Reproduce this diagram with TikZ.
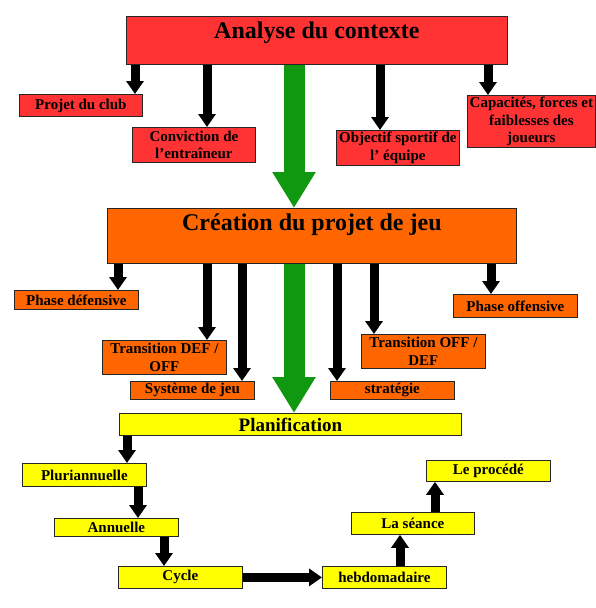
\documentclass[tikz,border=0pt]{standalone}
\usepackage{fontspec}
\setmainfont{Liberation Serif}
\usepackage{tikz}
\usetikzlibrary{arrows.meta}

\definecolor{rouge}{RGB}{255,51,51}
\definecolor{orangefonce}{RGB}{255,102,0}
\definecolor{jaune}{RGB}{255,255,0}
\definecolor{vert}{RGB}{16,152,16}

\tikzset{
  box/.style={draw=black!85, line width=0.8pt, anchor=north west, inner sep=1pt,
    align=center, font=\bfseries\fontsize{15}{17.5}\selectfont},
  rbox/.style={box, fill=rouge},
  obox/.style={box, fill=orangefonce},
  ybox/.style={box, fill=jaune},
  titre/.style={inner ysep=0pt, font=\bfseries\fontsize{24}{29}\selectfont},
  blk/.style={line width=9pt, -{Triangle[width=17pt,length=13pt]}},
  grn/.style={vert, line width=21pt, -{Triangle[width=41pt,length=36pt]}}
}

\begin{document}
\begin{tikzpicture}[x=1pt,y=-1pt]
\useasboundingbox (0,0) rectangle (596,608);

% contexte
\node[rbox, titre, minimum width=381pt, text height=22pt, text depth=26pt] (A) at (126,16) {Analyse du contexte};
\node[rbox, minimum width=123pt, minimum height=22pt] (PC) at (19,94) {Projet du club};
\node[rbox, minimum width=123pt, minimum height=35pt] (CE) at (132,127) {Conviction de\\l’entraîneur};
\node[rbox, minimum width=123pt, minimum height=35pt] (OS) at (336,130) {Objectif sportif de\\l' équipe};
\node[rbox, minimum width=128pt, minimum height=52pt] (CF) at (467,95) {Capacités, forces et\\faiblesses des\\joueurs};

% projet de jeu
\node[obox, titre, minimum width=409pt, text height=22pt, text depth=33pt] (C) at (107,208) {Création du projet de jeu};
\node[obox, minimum width=124pt, minimum height=19pt] (PD) at (14,290) {Phase défensive};
\node[obox, minimum width=124pt, minimum height=34pt] (TD) at (102,340) {Transition DEF /\\OFF};
\node[obox, minimum width=124pt, minimum height=18pt] (SJ) at (130,381) {Système de jeu};
\node[obox, minimum width=124pt, minimum height=18pt] (ST) at (330,381) {stratégie};
\node[obox, minimum width=124pt, minimum height=34pt] (TO) at (361,334) {Transition OFF /\\DEF};
\node[obox, minimum width=124pt, minimum height=23pt] (PO) at (453,294) {Phase offensive};

% planification
\node[ybox, minimum width=342pt, minimum height=22pt, font=\bfseries\fontsize{19}{22}\selectfont] (P) at (119,413) {Planification};
\node[ybox, minimum width=124pt, minimum height=23pt] (PL) at (22,463) {Pluriannuelle};
\node[ybox, minimum width=124pt, minimum height=18pt] (AN) at (54,518) {Annuelle};
\node[ybox, minimum width=124pt, minimum height=22pt] (CY) at (118,566) {Cycle};
\node[ybox, minimum width=124pt, minimum height=22pt] (HB) at (322,566) {hebdomadaire};
\node[ybox, minimum width=123pt, minimum height=22pt] (LS) at (351,512) {La séance};
\node[ybox, minimum width=124pt, minimum height=21pt] (LP) at (426,460) {Le procédé};

\path[blk] (A.south -| 135,0) edge (PC.north -| 135,0);
\path[blk] (A.south -| 207,0) edge (CE.north -| 207,0);
\path[blk] (A.south -| 380,0) edge (OS.north -| 380,0);
\path[blk] (A.south -| 488,0) edge (CF.north -| 488,0);
\draw[grn] (A.south -| 294,0) -- (C.north -| 294,0);

\path[blk] (C.south -| 118,0) edge (PD.north -| 118,0);
\path[blk] (C.south -| 207,0) edge (TD.north -| 207,0);
\path[blk] (C.south -| 242,0) edge (SJ.north -| 242,0);
\path[blk] (C.south -| 337,0) edge (ST.north -| 337,0);
\path[blk] (C.south -| 374,0) edge (TO.north -| 374,0);
\path[blk] (C.south -| 491,0) edge (PO.north -| 491,0);
\draw[grn] (C.south -| 294,0) -- (P.north -| 294,0);

\path[blk] (P.south -| 127,0) edge (PL.north -| 127,0);
\path[blk] (PL.south -| 138,0) edge (AN.north -| 138,0);
\path[blk] (AN.south -| 164,0) edge (CY.north -| 164,0);
\path[blk] (CY) edge (HB);
\path[blk] (HB.north -| 400,0) edge (LS.south -| 400,0);
\path[blk] (LS.north -| 435,0) edge (LP.south -| 435,0);
\end{tikzpicture}
\end{document}
